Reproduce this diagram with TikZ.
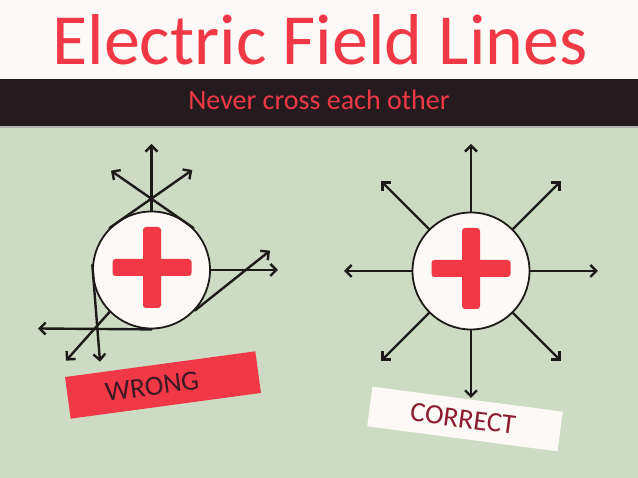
\documentclass[tikz,border=0pt]{standalone}
\usepackage{fontspec}
\setmainfont{Carlito}
\usetikzlibrary{arrows.meta}

\definecolor{paper}{RGB}{252,249,246}
\definecolor{band}{RGB}{37,26,30}
\definecolor{meadow}{RGB}{205,219,196}
\definecolor{slidered}{RGB}{240,56,70}
\definecolor{ink}{RGB}{30,26,26}
\definecolor{wrongink}{RGB}{60,25,35}
\definecolor{rightink}{RGB}{140,28,45}

\begin{document}
\begin{tikzpicture}[x=1pt, y=1pt, line join=round, line cap=round,
  fl/.style={ink, line width=2.4pt, -{Straight Barb[length=6pt,width=12pt]}},
  charge/.style={circle, draw=ink, line width=1.8pt, fill=paper, minimum size=117pt, inner sep=0pt},
  plussign/.pic={
    \fill[slidered, rounded corners=3pt] (-9,-40.5) rectangle (9,40.5);
    \fill[slidered, rounded corners=3pt] (-39.5,-8.5) rectangle (39.5,8.5);
  },
  tag/.style={minimum width=192pt, minimum height=42pt, inner sep=0pt, font=\fontsize{28}{32}\selectfont}
]
  % slide background
  \fill[meadow] (0,0) rectangle (638,478);
  \fill[paper] (0,399) rectangle (638,478);
  \fill[band] (0,352) rectangle (638,399);
  \fill[gray!60] (0,350) rectangle (638,352);

  \node[anchor=base, text=slidered, font=\fontsize{72}{80}\selectfont] (title) at (320,413) {Electric Field Lines};
  \node[anchor=base, text=slidered, font=\fontsize{28}{32}\selectfont] (sub) at (319,368) {Never cross each other};

  % wrong picture
  \node[charge] (L) at (151.5,208) {};
  \pic at (152,210.5) {plussign};

  \coordinate (l1) at (151.5,334);
  \coordinate (l2) at (111,307.3);
  \coordinate (l3) at (192.3,308);
  \coordinate (l4) at (278,208);
  \coordinate (l5) at (270,227.3);
  \coordinate (l6) at (38,149.5);
  \coordinate (l7) at (100,116.3);
  \coordinate (l8) at (66,117.3);

  \draw[fl] (L.90)--(l1);
  \draw[fl] (L.45)--(l2);
  \draw[fl] (L.135)--(l3);
  \draw[fl] (L.0)--(l4);
  \draw[fl] (L.-43)--(l5);
  \draw[fl] (L.270)--(l6);
  \draw[fl] (L.175)--(l7);
  \draw[fl] (L.225)--(l8);

  % correct picture
  \node[charge] (R) at (471,207) {};
  \pic at (471,209.5) {plussign};

  \coordinate (r0) at (598,207);
  \coordinate (r45) at (560.8,296.8);
  \coordinate (r90) at (471,334);
  \coordinate (r135) at (381.2,296.8);
  \coordinate (r180) at (344,207);
  \coordinate (r225) at (381.2,117.2);
  \coordinate (r270) at (471,80);
  \coordinate (r315) at (560.8,117.2);

  \draw[fl] (R.0)--(r0);
  \draw[fl] (R.45)--(r45);
  \draw[fl] (R.90)--(r90);
  \draw[fl] (R.135)--(r135);
  \draw[fl] (R.180)--(r180);
  \draw[fl] (R.225)--(r225);
  \draw[fl] (R.270)--(r270);
  \draw[fl] (R.315)--(r315);

  % labels
  \node[tag, fill=slidered, text=wrongink, rotate=7.7] (wrong) at (163,93) {\hspace*{-22pt}WRONG};
  \node[tag, fill=paper, text=rightink, rotate=-7.5, minimum height=40pt] (right) at (465,59) {\hspace*{-4pt}CORRECT};
\end{tikzpicture}
\end{document}
